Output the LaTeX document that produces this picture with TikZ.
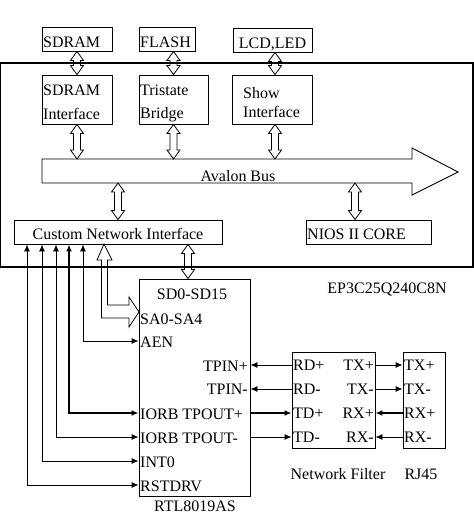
\documentclass[tikz,border=0pt]{standalone}
\usepackage{fontspec}
\setmainfont{Liberation Serif}
\usetikzlibrary{arrows.meta,fit,calc}
\newcommand\hollowud[2]{%
  \draw[harrow] let \p1=#1, \p2=#2 in
   (\x1,\y1) -- (\x1+6.5pt,\y1-9pt) -- (\x1+3.5pt,\y1-9pt) -- (\x1+3.5pt,\y2+9pt)
   -- (\x1+6.5pt,\y2+9pt) -- (\x1,\y2) -- (\x1-6.5pt,\y2+9pt) -- (\x1-3.5pt,\y2+9pt)
   -- (\x1-3.5pt,\y1-9pt) -- (\x1-6.5pt,\y1-9pt) -- cycle;}
\begin{document}
\begin{tikzpicture}[x=1pt,y=-1pt,
  box/.style={draw, line width=0.9pt, inner sep=0pt},
  txt/.style={inner sep=0pt, font=\fontsize{16}{19}\selectfont},
  harrow/.style={line width=0.8pt, line join=miter},
  tip/.tip={Latex[length=7pt,width=6pt]},
  sig/.style={line width=0.9pt, tip-tip},
  sigr/.style={line width=0.9pt, -tip},
  thick sig/.style={line width=1.6pt},
]
\useasboundingbox (0,0) rectangle (474,515);

% FPGA outline
\draw[line width=1.4pt] (0.8,63) rectangle (472.8,267);
\node[txt, anchor=base] (ep) at (387,293) {EP3C25Q240C8N};

% external memories / display
\node[box, fit={(42,27) (112,51)}] (sdram) {};
\node[txt, anchor=base west] (tsdram) at (43,47.5) {SDRAM};
\node[box, fit={(139,27) (195,51)}] (flash) {};
\node[txt, anchor=base west] (tflash) at (140,47.5) {FLASH};
\node[box, fit={(233,28) (312,52)}] (lcd) {};
\node[txt, anchor=base] (tlcd) at (272.5,48) {LCD,LED};

% interfaces
\node[box, fit={(42,75) (112,124)}] (sdrami) {};
\node[txt, anchor=base west] (tsdrami1) at (43,95) {SDRAM};
\node[txt, anchor=base west] (tsdrami2) at (43,119) {Interface};
\node[box, fit={(139,75) (208,124)}] (tri) {};
\node[txt, anchor=base west] (ttri1) at (140,95) {Tristate};
\node[txt, anchor=base west] (ttri2) at (140,118) {Bridge};
\node[box, fit={(232,75) (312,124)}] (show) {};
\node[txt, anchor=base west] (tshow1) at (243,98) {Show};
\node[txt, anchor=base west] (tshow2) at (243,117) {Interface};

% Avalon bus
\coordinate (bustop) at (0,159);
\coordinate (busbot) at (0,183);
\draw[line width=0.9pt, line join=miter] (42,159) -- (412,159) -- (412,148) -- (458,172)
  -- (412,195) -- (412,183) -- (42,183) -- cycle;
\node[txt, anchor=base] (bus) at (238,181) {Avalon Bus};

\node[box, fit={(14,220) (222,244)}] (cni) {};
\node[txt, anchor=base] (tcni) at (118,239) {Custom Network Interface};
\node[box, fit={(306,220) (431,244)}] (nios) {};
\node[txt, anchor=base west] (tnios) at (307,239) {NIOS II CORE};

% hollow double arrows
\hollowud{(sdram.south)}{(sdrami.north)}
\hollowud{(tri.north |- flash.south)}{(tri.north)}
\hollowud{(275,0 |- lcd.south)}{(show.north)}
\hollowud{(sdrami.south)}{(bustop)}
\hollowud{(tri.south)}{(bustop)}
\hollowud{(275,0 |- show.south)}{(bustop)}
\hollowud{(cni.north |- busbot)}{(cni.north)}
\hollowud{(355,0 |- busbot)}{(355,0 |- nios.north)}

% RTL8019AS
\node[box, fit={(139,279) (250,496)}] (rtl) {};
\node[txt, anchor=base] (rtlname) at (195,511) {RTL8019AS};
\hollowud{(188,0 |- cni.south)}{(188,0 |- rtl.north)}
\node[txt, anchor=base] (tsd) at (192,299) {SD0-SD15};
\node[txt, anchor=base west] (tsa) at (140,324) {SA0-SA4};
\node[txt, anchor=base west] (taen) at (140,347) {AEN};
\node[txt, anchor=base east] (ttpinp) at (248,371) {TPIN+};
\node[txt, anchor=base east] (ttpinm) at (248,394) {TPIN-};
\node[txt, anchor=base west] (ttpoutp) at (140,419) {IORB TPOUT+};
\node[txt, anchor=base west] (ttpoutm) at (140,443) {IORB TPOUT-};
\node[txt, anchor=base west] (tint) at (140,467) {INT0};
\node[txt, anchor=base west] (trst) at (140,491) {RSTDRV};

% SA0-SA4 hollow bent arrow
\draw[harrow] (104,244) -- (112,260) -- (107.5,260) -- (107.5,305) -- (129,305)
  -- (129,297) -- (139,312) -- (129,327) -- (129,318) -- (101.5,318)
  -- (101.5,260) -- (97,260) -- cycle;

% control lines
\draw[sig] (83,0 |- cni.south) |- (rtl.west |- 0,341);
\draw[sig, thick sig] (69,0 |- cni.south) |- (rtl.west |- 0,413);
\draw[sig] (56,0 |- cni.south) |- (rtl.west |- 0,437);
\draw[sig] (42,0 |- cni.south) |- (rtl.west |- 0,461);
\draw[sig] (27,0 |- cni.south) |- (rtl.west |- 0,485);

% network filter and RJ45
\node[box, fit={(292,352) (375,448)}] (filt) {};
\node[box, fit={(403,352) (445,448)}] (rj) {};
\node[txt, anchor=base] (tfilt) at (338,479) {Network Filter};
\node[txt, anchor=base] (trj) at (421,479) {RJ45};

\node[txt, anchor=base west] (frdp) at (293,370) {RD+};
\node[txt, anchor=base west] (frdm) at (293,394) {RD-};
\node[txt, anchor=base west] (ftdp) at (293,418) {TD+};
\node[txt, anchor=base west] (ftdm) at (293,442) {TD-};
\node[txt, anchor=base east] (ftxp) at (374,370) {TX+};
\node[txt, anchor=base east] (ftxm) at (374,394) {TX-};
\node[txt, anchor=base east] (frxp) at (374,418) {RX+};
\node[txt, anchor=base east] (frxm) at (374,442) {RX-};
\node[txt, anchor=base west] (jtxp) at (404,370) {TX+};
\node[txt, anchor=base west] (jtxm) at (404,394) {TX-};
\node[txt, anchor=base west] (jrxp) at (404,418) {RX+};
\node[txt, anchor=base west] (jrxm) at (404,442) {RX-};

\draw[sigr] (filt.west |- 0,365) -- (rtl.east |- 0,365);
\draw[sigr] (filt.west |- 0,389) -- (rtl.east |- 0,389);
\draw[sigr, thick sig] (rtl.east |- 0,413) -- (filt.west |- 0,413);
\draw[sigr] (rtl.east |- 0,437) -- (filt.west |- 0,437);
\draw[sigr] (filt.east |- 0,365) -- (rj.west |- 0,365);
\draw[sigr] (filt.east |- 0,389) -- (rj.west |- 0,389);
\draw[sigr, thick sig] (rj.west |- 0,413) -- (filt.east |- 0,413);
\draw[sigr] (rj.west |- 0,437) -- (filt.east |- 0,437);
\end{tikzpicture}
\end{document}
